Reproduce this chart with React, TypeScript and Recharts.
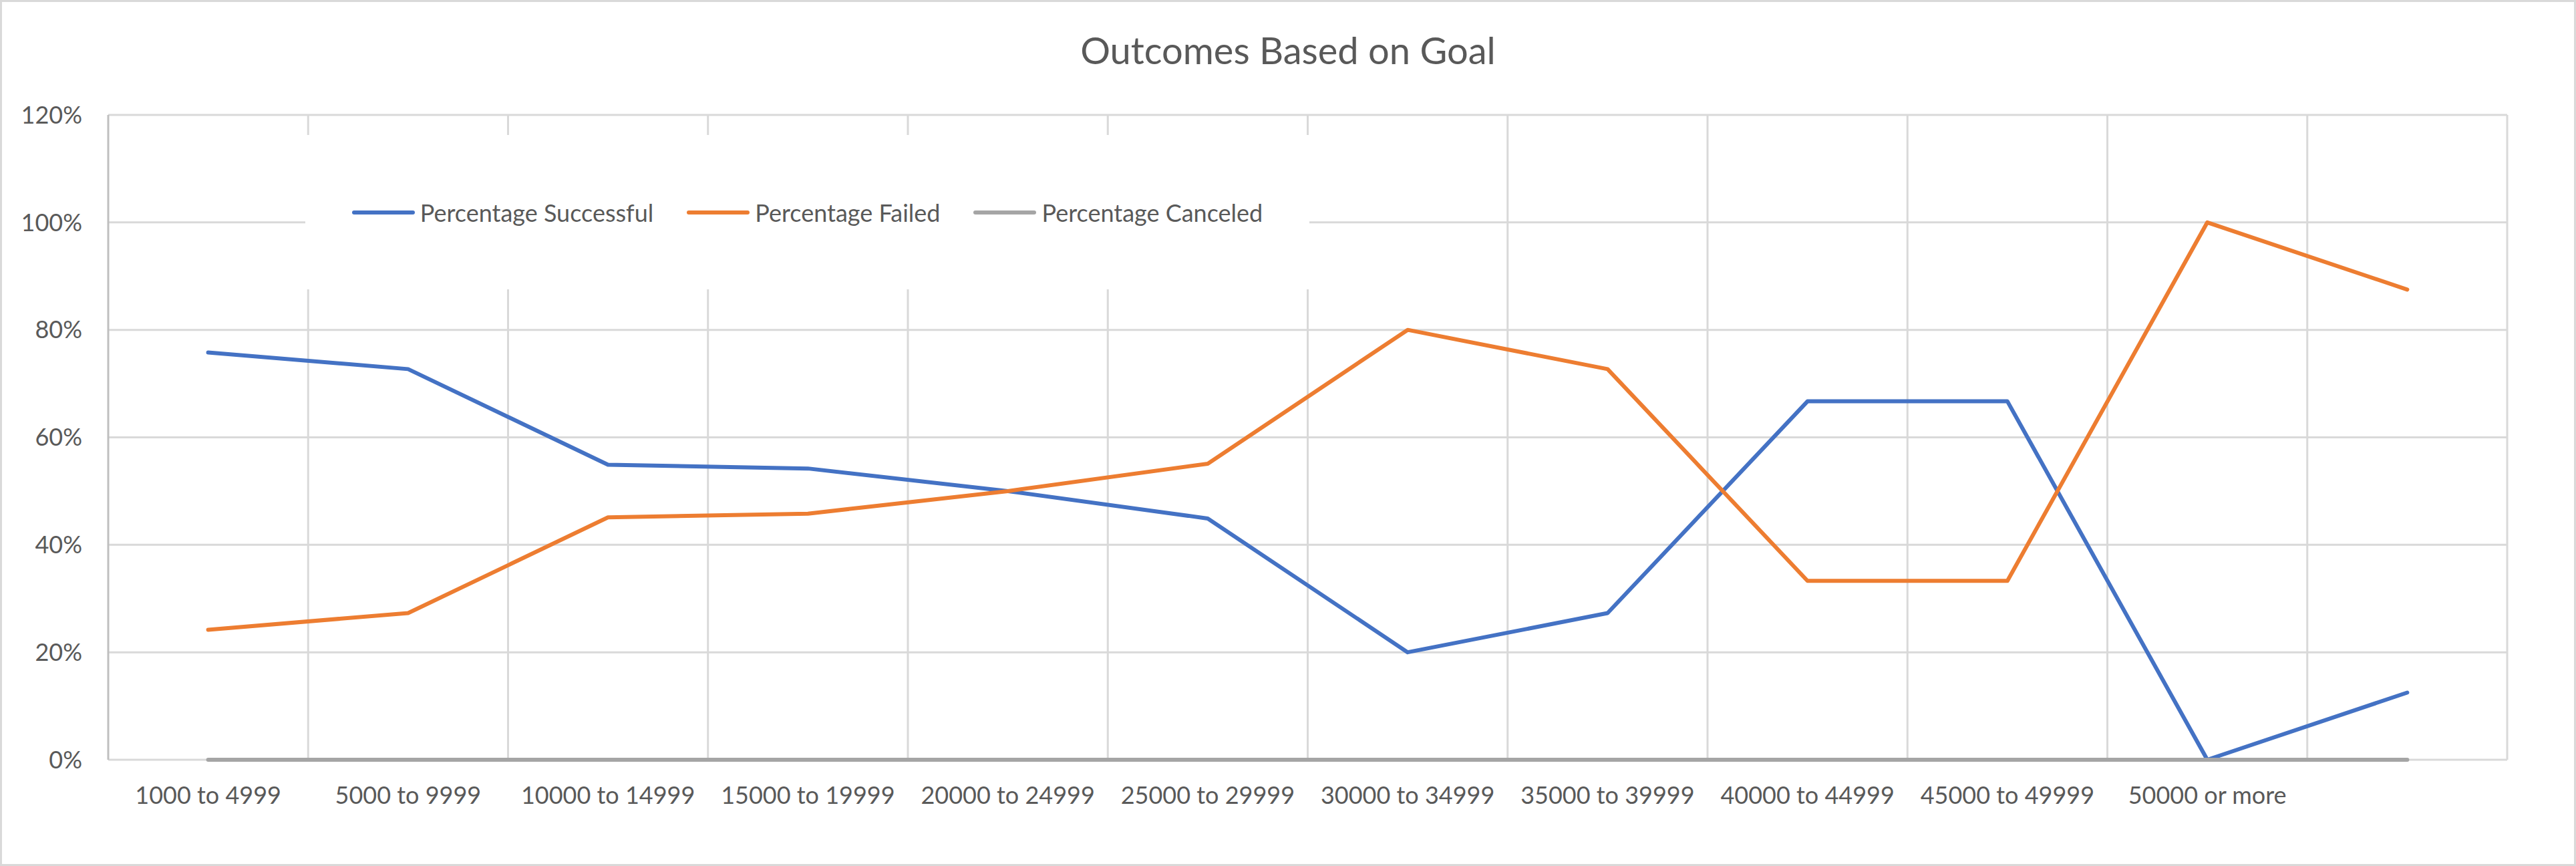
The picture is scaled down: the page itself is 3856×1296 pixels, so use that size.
import { LineChart, Line, XAxis, YAxis, CartesianGrid, Legend } from "recharts";

const categories = [
  "1000 to 4999",
  "5000 to 9999",
  "10000 to 14999",
  "15000 to 19999",
  "20000 to 24999",
  "25000 to 29999",
  "30000 to 34999",
  "35000 to 39999",
  "40000 to 44999",
  "45000 to 49999",
  "50000 or more",
  "",
];
const successful = [0.758, 0.727, 0.549, 0.542, 0.5, 0.449, 0.2, 0.273, 0.667, 0.667, 0, 0.125];
const failed = [0.242, 0.273, 0.451, 0.458, 0.5, 0.551, 0.8, 0.727, 0.333, 0.333, 1, 0.875];
const canceled = [0, 0, 0, 0, 0, 0, 0, 0, 0, 0, 0, 0];
const seriesNames = ["Percentage Successful", "Percentage Failed", "Percentage Canceled"];
const yTicks = [0, 0.2, 0.4, 0.6, 0.8, 1, 1.2];

const W = 3856;
const H = 1296;
const FONT = "Lato, 'Open Sans', sans-serif";
const TEXT = "#595959";

const data = categories.map((c, i) => ({
  goal: c,
  successful: successful[i],
  failed: failed[i],
  canceled: canceled[i],
}));

// plot area is 3591 wide, 12 slots -> points sit in the middle of each slot
const slot = 3591 / categories.length;

function LegendBox({ payload }: any) {
  const items = [...(payload || [])].sort((a: any, b: any) => seriesNames.indexOf(a.value) - seriesNames.indexOf(b.value));
  return (
    <div style={{ display: "flex", alignItems: "center", justifyContent: "center", height: "100%", fontFamily: FONT, fontSize: 36, color: TEXT }}>
      {items.map((p: any, i: number) => (
        <div key={p.value} style={{ display: "flex", alignItems: "center", marginLeft: i === 0 ? 0 : 50 }}>
          <div style={{ width: 94, height: 6, borderRadius: 3, background: p.color, marginRight: 8 }} />
          <span>{p.value}</span>
        </div>
      ))}
    </div>
  );
}

export default function App() {
  return (
    <div style={{ position: "relative", width: W, height: H, background: "#fff" }}>
      <style>{"body{margin:0}"}</style>
      <div style={{ position: "absolute", left: 0, top: 47, width: W, textAlign: "center", fontFamily: FONT, fontSize: 56, lineHeight: "56px", color: TEXT }}>
        Outcomes Based on Goal
      </div>
      <LineChart width={W} height={H} data={data} margin={{ top: 172, right: 103, bottom: 59, left: 62 }}>
        <CartesianGrid
          stroke="#D9D9D9"
          strokeWidth={3}
          verticalCoordinatesGenerator={({ offset }: any) =>
            categories.map((_, i) => offset.left + ((i + 1) * offset.width) / categories.length)
          }
        />
        <XAxis
          dataKey="goal"
          interval={0}
          padding={{ left: slot / 2, right: slot / 2 }}
          tickLine={false}
          tickSize={0}
          tickMargin={40}
          height={100}
          axisLine={false}
          tick={{ fill: TEXT, fontSize: 36, fontFamily: FONT }}
        />
        <YAxis
          domain={[0, 1.2]}
          ticks={yTicks}
          width={100}
          tickLine={false}
          tickSize={0}
          tickMargin={39}
          axisLine={{ stroke: "#BFBFBF", strokeWidth: 3 }}
          tickFormatter={(v: number) => `${Math.round(v * 100)}%`}
          tick={{ fill: TEXT, fontSize: 36, fontFamily: FONT }}
        />
        <Legend
          verticalAlign="middle"
          align="center"
          itemSorter={null as any}
          content={<LegendBox />}
          wrapperStyle={{ position: "absolute", left: 457, top: 202, width: 1503, height: 231, background: "#fff" }}
        />
        <Line type="linear" dataKey="successful" name={seriesNames[0]} stroke="#4472C4" strokeWidth={6} strokeLinecap="round" strokeLinejoin="round" dot={false} activeDot={false} isAnimationActive={false} />
        <Line type="linear" dataKey="failed" name={seriesNames[1]} stroke="#ED7D31" strokeWidth={6} strokeLinecap="round" strokeLinejoin="round" dot={false} activeDot={false} isAnimationActive={false} />
        <Line type="linear" dataKey="canceled" name={seriesNames[2]} stroke="#A5A5A5" strokeWidth={6} strokeLinecap="round" strokeLinejoin="round" dot={false} activeDot={false} isAnimationActive={false} />
      </LineChart>
      <div style={{ position: "absolute", left: 0, top: 0, width: W, height: H, boxSizing: "border-box", border: "3px solid #D9D9D9", pointerEvents: "none" }} />
    </div>
  );
}
